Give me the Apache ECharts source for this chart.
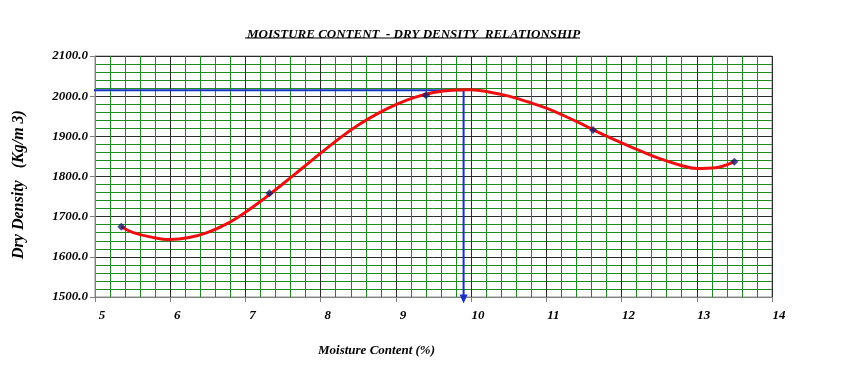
<!DOCTYPE html>
<html><head><meta charset="utf-8">
<script src="https://cdn.jsdelivr.net/npm/echarts@6/dist/echarts.min.js"></script>
<style>html,body{margin:0;padding:0;background:#fff}#c{width:841px;height:370px}</style>
</head><body><div id="c"></div>
<script>
// Axis ranges / ticks
const xMin = 5, xMax = 14, xStep = 1;
const yMin = 1500, yMax = 2100, yStep = 100;
// Measured points
const moisture = [5.35, 7.32, 9.40, 11.62, 13.50];
const density  = [1675, 1758, 2002, 1916, 1837];
// Fitted curve
const curveX = [5.35, 5.5, 5.75, 6.0, 6.25, 6.5, 6.75, 7.0, 7.25, 7.5, 7.75, 8.0, 8.25, 8.5, 8.75, 9.0, 9.25, 9.5, 9.75, 10.0, 10.25, 10.5, 10.75, 11.0, 11.25, 11.5, 11.75, 12.0, 12.25, 12.5, 12.75, 13.0, 13.25, 13.5];
const curveY = [1675, 1661, 1649, 1643, 1648, 1661, 1682, 1711, 1745, 1782, 1820, 1858, 1895, 1928, 1956, 1979, 1997, 2009, 2015, 2016, 2010, 2000, 1986, 1970, 1950, 1928, 1905, 1884, 1864, 1845, 1830, 1820, 1822, 1837];
// Optimum moisture content / maximum dry density guide lines
const omc = 9.9, mdd = 2015, guideStartX = 4.93, guideEndY = 1495;

const FONT = '"Liberation Serif", "Times New Roman", serif';
const chart = echarts.init(document.getElementById('c'), null, {renderer: 'canvas'});
chart.setOption({
  backgroundColor: '#ffffff',
  animation: false,
  title: {
    text: 'MOISTURE CONTENT  - DRY DENSITY  RELATIONSHIP',
    left: 242, top: 23,
    textStyle: {fontFamily: FONT, fontSize: 13, fontWeight: 'bold', fontStyle: 'italic', color: '#000'}
  },
  graphic: [{
    type: 'line', shape: {x1: 245, y1: 38, x2: 580, y2: 38},
    style: {stroke: '#000', lineWidth: 1}
  }],
  grid: {left: 95, right: 69, top: 56, bottom: 73, show: true, borderColor: '#8c8c8c', borderWidth: 1},
  xAxis: {
    type: 'value', min: xMin, max: xMax, interval: xStep,
    name: 'Moisture Content (%)', nameLocation: 'middle', nameGap: 47,
    nameTextStyle: {fontFamily: FONT, fontSize: 13, fontWeight: 'bold', fontStyle: 'italic', color: '#000', padding: [0, 114, 0, 0]},
    axisLine: {show: true, lineStyle: {color: '#808080', width: 1}},
    axisTick: {show: true, length: 5, lineStyle: {color: '#808080'}},
    axisLabel: {fontFamily: FONT, fontSize: 13, fontWeight: 'bold', fontStyle: 'italic', color: '#000', margin: 12, padding: [0, 0, 0, 14]},
    splitLine: {show: true, lineStyle: {color: '#2b2b2b', width: 1}},
    minorTick: {show: false, splitNumber: 5},
    minorSplitLine: {show: true, lineStyle: {color: '#1f8a1f', width: 1}}
  },
  yAxis: {
    type: 'value', min: yMin, max: yMax, interval: yStep,
    name: 'Dry Density   (Kg/m 3)', nameLocation: 'middle', nameGap: 68,
    nameTextStyle: {fontFamily: FONT, fontSize: 16, fontWeight: 'bold', fontStyle: 'italic', color: '#000', padding: [0, 16, 0, 0]},
    axisLine: {show: true, lineStyle: {color: '#808080', width: 1}},
    axisTick: {show: true, length: 5, lineStyle: {color: '#808080'}},
    axisLabel: {fontFamily: FONT, fontSize: 13, fontWeight: 'bold', fontStyle: 'italic', color: '#000', margin: 7,
      formatter: v => v.toFixed(1)},
    splitLine: {show: true, lineStyle: {color: '#2b2b2b', width: 1}},
    minorTick: {show: false, splitNumber: 5},
    minorSplitLine: {show: true, lineStyle: {color: '#1f8a1f', width: 1}}
  },
  series: [
    {
      type: 'line', clip: false, z: 2, symbol: 'none', showSymbol: true, silent: true,
      lineStyle: {color: '#1630c8', width: 2},
      itemStyle: {color: '#1630c8'},
      data: [
        [guideStartX, mdd],
        [omc, mdd],
        {value: [omc, guideEndY], symbol: 'triangle', symbolRotate: 180, symbolSize: [8, 9]}
      ]
    },
    {
      type: 'line', smooth: 0.4, symbol: 'none', z: 3,
      data: curveX.map((x, i) => [x, curveY[i]]),
      lineStyle: {color: '#ee1010', width: 3}
    },
    {
      type: 'scatter', symbol: 'diamond', symbolSize: 8, z: 4,
      data: moisture.map((x, i) => [x, density[i]]),
      itemStyle: {color: '#1c1c6e'}
    }
  ]
});
</script></body></html>
